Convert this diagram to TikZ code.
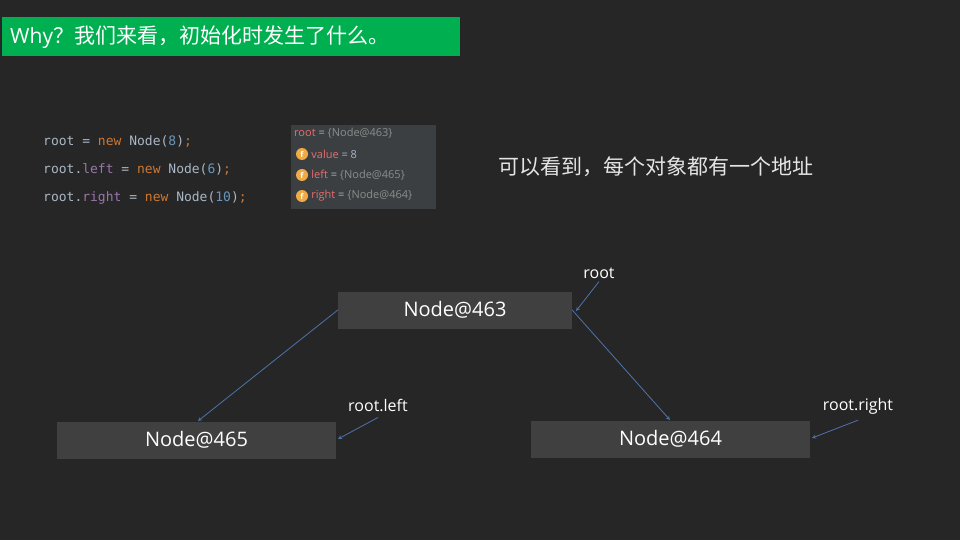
\documentclass[tikz,border=0pt]{standalone}
\usepackage{fontspec}
\setmainfont{Open Sans}
\setmonofont{DejaVu Sans Mono}
\newfontfamily\cjk{Noto Sans CJK SC}
\usetikzlibrary{positioning}
\definecolor{bgdark}{RGB}{38,38,38}
\definecolor{titlegreen}{RGB}{0,176,80}
\definecolor{boxgray}{RGB}{64,64,64}
\definecolor{linkblue}{RGB}{79,114,170}
\definecolor{codegray}{RGB}{169,183,198}
\definecolor{codeorange}{RGB}{204,120,50}
\definecolor{codepurple}{RGB}{152,118,170}
\definecolor{codeblue}{RGB}{104,151,187}
\definecolor{dbgbg}{RGB}{60,63,65}
\definecolor{dbgred}{RGB}{230,110,110}
\definecolor{dbgval}{RGB}{140,140,140}
\definecolor{forange}{RGB}{240,170,70}
\tikzset{
  objbox/.style={fill=boxgray, text=white, minimum height=37pt, font=\fontsize{20pt}{20pt}\selectfont},
  link/.style={draw=linkblue, line width=0.8pt, -stealth},
  tag/.style={text=white, font=\fontsize{16pt}{16pt}\selectfont, inner sep=1pt},
  codeline/.style={anchor=west, inner sep=0pt, text=codegray, font=\ttfamily\fontsize{13pt}{13pt}\selectfont},
  dbgline/.style={anchor=west, inner sep=0pt, font=\fontsize{11pt}{11pt}\selectfont},
  fdot/.style={circle, fill=forange, text=white, inner sep=0pt, minimum size=12pt, font=\fontsize{8pt}{8pt}\selectfont\bfseries}
}
\begin{document}
\begin{tikzpicture}[x=1pt,y=-1pt]
  \fill[bgdark] (0,0) rectangle (960,540);
  \useasboundingbox (0,0) rectangle (960,540);

  % title
  \fill[titlegreen] (2,17) rectangle (460,56);
  \node[anchor=west, text=white, inner sep=0pt, font=\fontsize{21pt}{21pt}\selectfont] (title) at (10,37) {Why{\cjk ？我们来看，初始化时发生了什么。}};

  % code
  \node[codeline] (code1) at (43,141) {root = \textcolor{codeorange}{new} Node(\textcolor{codeblue}{8})\textcolor{codeorange}{;}};
  \node[codeline] (code2) at (43,169) {root.\textcolor{codepurple}{left} = \textcolor{codeorange}{new} Node(\textcolor{codeblue}{6})\textcolor{codeorange}{;}};
  \node[codeline] (code3) at (43,198) {root.\textcolor{codepurple}{right} = \textcolor{codeorange}{new} Node(\textcolor{codeblue}{10})\textcolor{codeorange}{;}};

  % debugger
  \fill[dbgbg] (291,125) rectangle (436,209);
  \node[dbgline] (dbg0) at (294,133) {\textcolor{dbgred}{root} \textcolor{codegray}{=} \textcolor{dbgval}{\{Node@463\}}};
  \node[fdot] (f1) at (302,154) {f};
  \node[dbgline, right=3pt of f1] (dbg1) {\textcolor{dbgred}{value} \textcolor{codegray}{= 8}};
  \node[fdot] (f2) at (302,175) {f};
  \node[dbgline, right=3pt of f2] (dbg2) {\textcolor{dbgred}{left} \textcolor{codegray}{=} \textcolor{dbgval}{\{Node@465\}}};
  \node[fdot] (f3) at (302,196) {f};
  \node[dbgline, right=3pt of f3] (dbg3) {\textcolor{dbgred}{right} \textcolor{codegray}{=} \textcolor{dbgval}{\{Node@464\}}};

  \node[anchor=west, text=white!90!black, inner sep=0pt, font=\cjk\fontsize{21pt}{21pt}\selectfont] (note) at (498,167) {可以看到，每个对象都有一个地址};

  % objects
  \node[objbox, minimum width=234pt] (n463) at (455,310) {Node@463};
  \node[objbox, minimum width=279pt] (n465) at (196.5,440) {Node@465};
  \node[objbox, minimum width=279pt] (n464) at (670.5,439) {Node@464};

  \draw[link] (n463.west) -- (198,421);
  \draw[link] (n463.east) -- (670,420);

  % references
  \node[tag] (troot) at (599,273) {root};
  \node[tag] (tleft) at (378,405) {root.left};
  \node[tag] (tright) at (858,406) {root.right};
  \draw[link] (troot.south) ++(0,2) -- (576,311);
  \draw[link] (tleft.south) ++(0,5) -- (338,439);
  \draw[link] (tright.south) ++(0,5) -- (812,438);
\end{tikzpicture}
\end{document}
